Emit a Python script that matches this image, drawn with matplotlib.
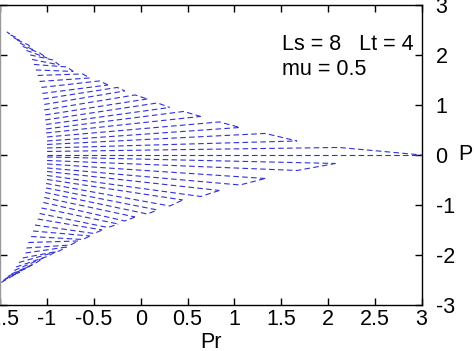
import matplotlib
matplotlib.use("Agg")
import matplotlib.pyplot as plt

plt.rcParams['font.family'] = ['Liberation Sans', 'DejaVu Sans']

# upper half: each tip is reached by a straight line (b) and a bent line (a)
up_tip_x = [3.00, 1.67, 1.06, 0.64, 0.31, 0.07, -0.17, -0.35, -0.54, -0.72, -0.87, -1.00, -1.15, -1.29, -1.40]
up_tip_y = [0.00, 0.28, 0.55, 0.77, 0.95, 1.12, 1.28, 1.40, 1.54, 1.67, 1.80, 1.94, 2.10, 2.28, 2.42]
up_kink_x = [2.12, 1.33, 0.84, 0.46, 0.18, -0.06, -0.25, -0.44, -0.62, -0.79, -0.94, -1.08, -1.20, -1.33, -1.42]
up_kink_y = [0.15, 0.43, 0.66, 0.87, 1.04, 1.20, 1.35, 1.48, 1.62, 1.76, 1.90, 2.04, 2.20, 2.35, 2.45]
up_b_x = [-1.00, -1.00, -1.00, -1.01, -1.01, -1.02, -1.03, -1.05, -1.08, -1.12, -1.16, -1.22, -1.29, -1.36, -1.41]
up_b_y = [0.00, 0.14, 0.28, 0.44, 0.61, 0.80, 1.01, 1.23, 1.47, 1.70, 1.91, 2.09, 2.24, 2.35, 2.43]
up_a_x = [-1.00, -1.00, -1.00, -1.01, -1.02, -1.03, -1.04, -1.06, -1.10, -1.14, -1.18, -1.26, -1.32, -1.39, -1.43]
up_a_y = [0.07, 0.21, 0.36, 0.52, 0.70, 0.90, 1.12, 1.35, 1.59, 1.81, 2.00, 2.17, 2.30, 2.40, 2.46]

# lower half
lo_tip_x = [2.08, 1.33, 0.84, 0.45, 0.18, -0.06, -0.24, -0.41, -0.54, -0.67, -0.79, -0.91, -1.04, -1.16, -1.29]
lo_tip_y = [-0.17, -0.47, -0.71, -0.90, -1.10, -1.24, -1.38, -1.50, -1.62, -1.72, -1.84, -1.94, -2.06, -2.20, -2.34]
lo_kink_x = [1.67, 1.06, 0.64, 0.31, 0.07, -0.17, -0.35, -0.50, -0.62, -0.75, -0.87, -1.00, -1.12, -1.25, -1.37]
lo_kink_y = [-0.31, -0.60, -0.83, -1.02, -1.18, -1.32, -1.45, -1.57, -1.69, -1.80, -1.92, -2.03, -2.16, -2.29, -2.42]
lo_b_x = [-1.00, -1.00, -1.00, -1.00, -1.01, -1.03, -1.06, -1.10, -1.15, -1.20, -1.23, -1.30, -1.35, -1.42, -1.47]
lo_b_y = [-0.04, -0.18, -0.33, -0.49, -0.66, -0.85, -1.06, -1.28, -1.52, -1.75, -1.96, -2.15, -2.31, -2.43, -2.51]
lo_a_x = [-1.00, -1.00, -1.00, -1.01, -1.02, -1.04, -1.08, -1.13, -1.17, -1.22, -1.26, -1.33, -1.38, -1.45, -1.49]
lo_a_y = [-0.11, -0.26, -0.41, -0.57, -0.75, -0.95, -1.17, -1.40, -1.63, -1.86, -2.06, -2.24, -2.38, -2.48, -2.55]

col = '#3030d8'
fig = plt.figure(figsize=(4.74, 3.51), dpi=100)
ax = fig.add_axes([0.0005, 0.131, 0.889, 0.855])

for i in range(len(up_tip_x)):
    ax.plot([up_b_x[i], up_tip_x[i]], [up_b_y[i], up_tip_y[i]], color=col, lw=0.8, dashes=(5, 3))
    ax.plot([up_a_x[i], up_kink_x[i], up_tip_x[i]], [up_a_y[i], up_kink_y[i], up_tip_y[i]], color=col, lw=0.8, dashes=(5, 3))
for i in range(len(lo_tip_x)):
    ax.plot([lo_b_x[i], lo_tip_x[i]], [lo_b_y[i], lo_tip_y[i]], color=col, lw=0.8, dashes=(5, 3))
    ax.plot([lo_a_x[i], lo_kink_x[i], lo_tip_x[i]], [lo_a_y[i], lo_kink_y[i], lo_tip_y[i]], color=col, lw=0.8, dashes=(5, 3))

ax.set_xlim(-1.5, 3)
ax.set_ylim(-3, 3)
ax.set_xticks([-1.5, -1, -0.5, 0, 0.5, 1, 1.5, 2, 2.5, 3])
ax.set_xticklabels(['-1.5', '-1', '-0.5', '0', '0.5', '1', '1.5', '2', '2.5', '3'])
ax.set_yticks([-3, -2, -1, 0, 1, 2, 3])
ax.set_yticklabels(['-3', '-2', '-1', '0', '1', '2', '3'])
ax.tick_params(direction='in', length=5, width=1, labelsize=15.5, top=True, right=True,
               labelleft=False, labelright=True)
ax.tick_params(axis='x', pad=3)
ax.tick_params(axis='y', pad=10)
for s in ax.spines.values():
    s.set_linewidth(1)
ax.spines['left'].set_color('#999999')
ax.set_xlabel('Pr', fontsize=15.5, labelpad=1)
fig.text(458 / 474, 1 - 155 / 351, 'P', fontsize=15.5, va='center', ha='left')

fig.text(282 / 474, 1 - 50 / 351, 'Ls = 8   Lt = 4', fontsize=15.5, va='baseline')
fig.text(282 / 474, 1 - 75 / 351, 'mu = 0.5', fontsize=15.5, va='baseline')

fig.savefig('out.png', dpi=100)
